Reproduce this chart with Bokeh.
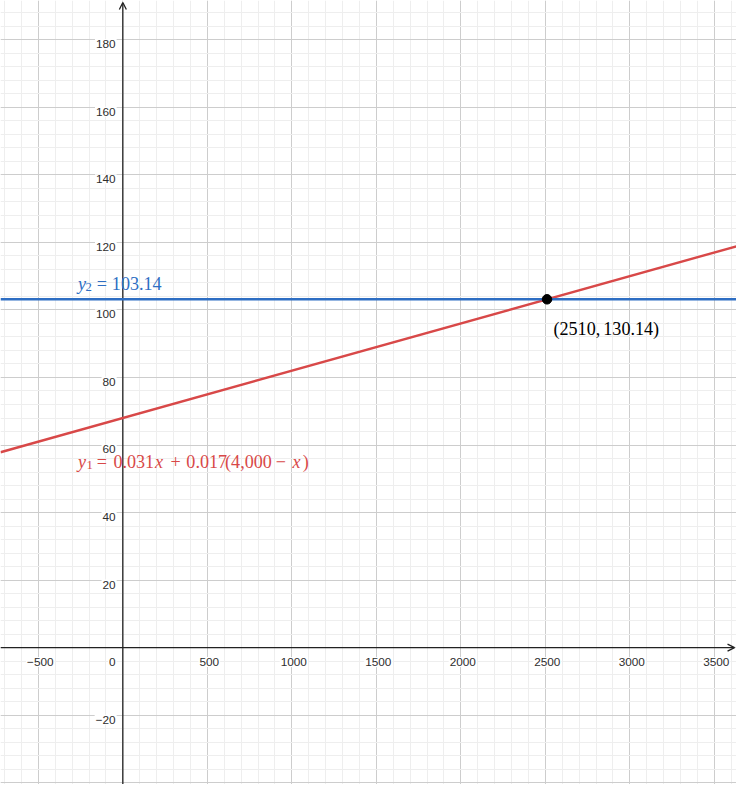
from bokeh.plotting import figure
from bokeh.models import Range1d, FixedTicker, Grid, Arrow, OpenHead
from bokeh.core.properties import value
from bokeh.embed import file_html
from bokeh.resources import INLINE

# ---- chart content ----
A1, B1, TOTAL = 0.031, 0.017, 4000      # y1 = 0.031x + 0.017(4,000 - x)
Y2 = 103.14                             # y2 = 103.14
POINT_X, POINT_Y = 2510, 103.14         # intersection point
POINT_LABEL = ["(2510,", "130.14)"]

X_MIN, X_MAX = -723.9, 3631.2
Y_MIN, Y_MAX = -40.5, 191.6
AXIS_X_END, AXIS_Y_END = 3619.6, 191.0

x_major = list(range(-500, 3501, 500))
x_minor = list(range(-700, 3601, 100))
y_major = list(range(-40, 181, 20))
y_minor = list(range(-40, 192, 4))

x_tick_vals = [-500, 500, 1000, 1500, 2000, 2500, 3000, 3500]
x_tick_labels = ["\u2212500", "500", "1000", "1500", "2000", "2500", "3000", "3500"]
y_tick_vals = [-20, 20, 40, 60, 80, 100, 120, 140, 160, 180]
y_tick_labels = ["\u221220", "20", "40", "60", "80", "100", "120", "140", "160", "180"]

RED = "#D84848"
BLUE = "#2E6EC3"
AXIS = "#222222"
TICK_TXT = "#2E2E2E"
SERIF = "Liberation Serif"
SANS = "Liberation Sans"
S = 0.979          # page scale relative to the 752x800 reference
FS = "18.1px"      # label font
FSUB = "12.7px"    # subscript font
FT = "11.8px"      # tick font


def y1(x):
    return A1 * x + B1 * (TOTAL - x)


p = figure(width=736, height=784, output_backend="svg", toolbar_location=None,
           x_range=Range1d(X_MIN, X_MAX), y_range=Range1d(Y_MIN, Y_MAX),
           x_axis_location=None, y_axis_location=None, min_border=0,
           outline_line_color=None, background_fill_color="white")
p.grid.visible = False

for dim, major, minor in ((0, x_major, x_minor), (1, y_major, y_minor)):
    g = Grid(dimension=dim, ticker=FixedTicker(ticks=major, minor_ticks=minor),
             grid_line_color="#CDCDCD", grid_line_width=1,
             minor_grid_line_color="#EEEEEE", minor_grid_line_width=1)
    p.add_layout(g)

# axes with arrow heads
p.add_layout(Arrow(end=OpenHead(size=7, line_color=AXIS, line_width=1.3),
                   x_start=X_MIN, y_start=0, x_end=AXIS_X_END, y_end=0,
                   line_color=AXIS, line_width=1.3, level="underlay"))
p.add_layout(Arrow(end=OpenHead(size=7, line_color=AXIS, line_width=1.3),
                   x_start=0, y_start=Y_MIN, x_end=0, y_end=AXIS_Y_END,
                   line_color=AXIS, line_width=1.3, level="underlay"))

# functions
xs = [X_MIN, X_MAX]
p.line(xs, [y1(x) for x in xs], line_color=RED, line_width=2.4)
p.line(xs, [Y2, Y2], line_color=BLUE, line_width=2.4)
p.scatter([POINT_X], [POINT_Y], size=9.5, color="black")

# tick labels
p.text(x=x_tick_vals, y=[0] * len(x_tick_vals), text=x_tick_labels,
       x_offset=2 * S, y_offset=14.7 * S, text_align="center", text_baseline="alphabetic",
       text_font=value(SANS), text_font_size=FT, text_color=TICK_TXT,
       background_fill_color="white", padding=1)
p.text(x=[0] * len(y_tick_vals), y=y_tick_vals, text=y_tick_labels,
       x_offset=-6.3 * S, y_offset=4.5 * S, text_align="right", text_baseline="alphabetic",
       text_font=value(SANS), text_font_size=FT, text_color=TICK_TXT,
       background_fill_color="white", padding=1)
p.text(x=[0], y=[0], text=["0"], x_offset=-6.3 * S, y_offset=14.7 * S,
       text_align="right", text_baseline="alphabetic",
       text_font=value(SANS), text_font_size=FT, text_color=TICK_TXT,
       background_fill_color="white", padding=1)


def piece(x, y, txt, dx, dy, color, italic=False, size=FS):
    p.text(x=[x], y=[y], text=[txt], x_offset=dx * S, y_offset=dy * S,
           text_align="left", text_baseline="alphabetic",
           text_font=value(SERIF), text_font_size=size,
           text_font_style="italic" if italic else "normal", text_color=color)


LX = -265.0

# y2 label
for txt, dx, dy, it, sz in (("y", 0, -16, True, FS), ("2", 7.5, -12.5, False, FSUB),
                            ("=", 19, -16, False, FS), ("103.14", 34.5, -16, False, FS)):
    piece(LX, Y2, txt, dx, dy, BLUE, it, sz)

# y1 label
for txt, dx, dy, it, sz in (("y", 0, 32, True, FS), ("1", 8.6, 35.5, False, FSUB),
                            ("=", 19, 32, False, FS), ("0.031", 36.1, 32, False, FS),
                            ("x", 78.5, 32, True, FS), ("+", 94.5, 32, False, FS),
                            ("0.017", 110.6, 32, False, FS), ("(4,000", 150.2, 32, False, FS),
                            ("\u2212", 202, 32, False, FS), ("x", 219, 32, True, FS),
                            (")", 229.5, 32, False, FS)):
    piece(LX, y1(LX), txt, dx, dy, RED, it, sz)

# point label
piece(POINT_X, POINT_Y, POINT_LABEL[0], 6.6, 30, "black")
piece(POINT_X, POINT_Y, POINT_LABEL[1], 57.5, 30, "black")

open("out.html", "w").write(file_html(p, INLINE))
